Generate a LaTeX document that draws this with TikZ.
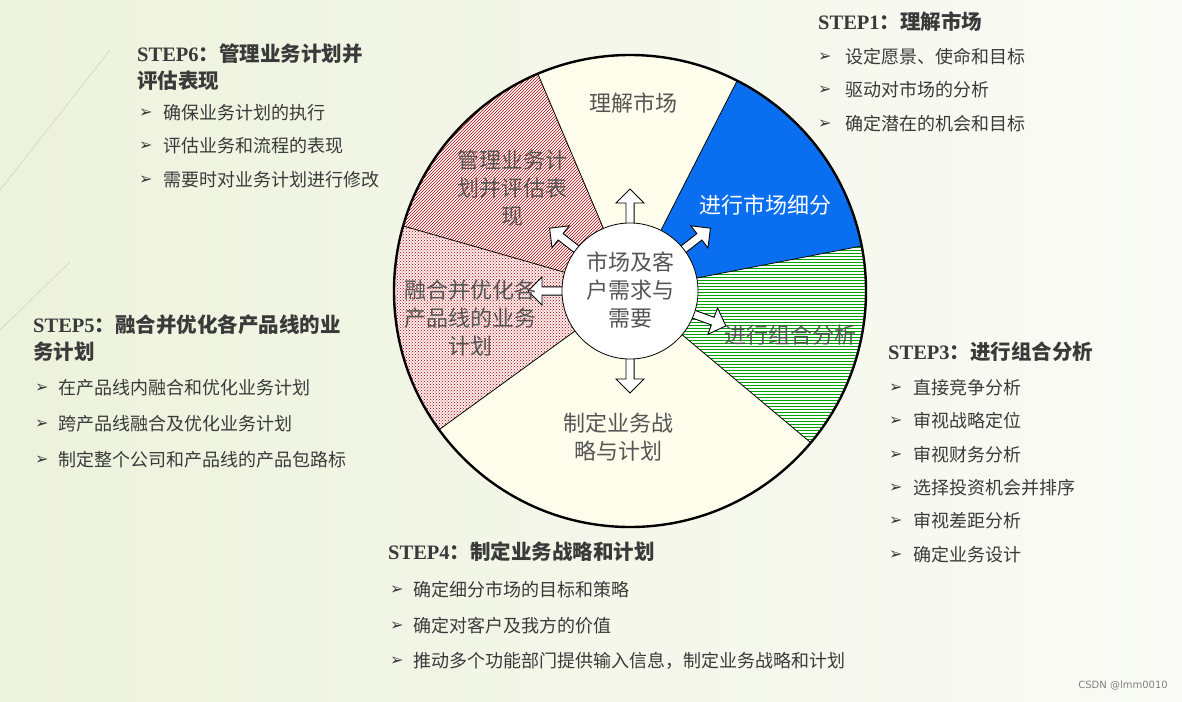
\documentclass[tikz,border=0pt]{standalone}
\usepackage{fontspec}
\setmainfont{Liberation Serif}
\newfontfamily\cjk{Noto Sans CJK SC}
\newfontfamily\djfont{DejaVu Sans}
\usetikzlibrary{patterns,shapes.arrows,calc}
\definecolor{bgA}{HTML}{EDF2DC}
\definecolor{bgB}{HTML}{FAFBF6}
\definecolor{cream}{HTML}{FFFEEC}
\definecolor{segblue}{HTML}{0A6EF0}
\definecolor{txt}{HTML}{3A3A3A}
\definecolor{lbl}{HTML}{555555}
\tikzset{
 head/.style={anchor=west,inner sep=0pt,font=\fontsize{20.5}{27}\selectfont,text=txt},
 item/.style={anchor=west,inner sep=0pt,font=\cjk\fontsize{18}{22}\selectfont,text=txt},
 bul/.style={anchor=west,inner sep=0pt,font=\djfont\bfseries\fontsize{16}{18}\selectfont,text=txt},
 seglbl/.style={align=center,inner sep=0pt,font=\cjk\fontsize{22}{28}\selectfont,text=lbl},
 blk/.style={single arrow,draw=black,fill=white,line width=0.9pt,minimum height=40pt,minimum width=28pt,single arrow head extend=6pt,inner sep=2pt}
}
\newcommand{\stp}[2]{{\bfseries STEP#1}{\cjk\bfseries ：#2}}
\begin{document}
\begin{tikzpicture}[x=1pt,y=-1pt]
\useasboundingbox (0,0) rectangle (1182,701);
\shade[left color=bgA,right color=bgB] (0,0) rectangle (1182,701);
\draw[gray!35,line width=0.6pt] (0,190) -- (110,50);
\draw[gray!35,line width=0.6pt] (0,330) -- (70,262);
\coordinate (C) at (630,291);
\def\R{236}
% sectors
\fill[segblue] (C) -- ($(C)+(-11:\R)$) arc[start angle=-11,end angle=-63,radius=\R] -- cycle;
\fill[cream] (C) -- ($(C)+(-63:\R)$) arc[start angle=-63,end angle=-113,radius=\R] -- cycle;
\fill[white] (C) -- ($(C)+(-113:\R)$) arc[start angle=-113,end angle=-164,radius=\R] -- cycle;
\fill[pattern=north east lines,pattern color=red!70!black] (C) -- ($(C)+(-113:\R)$) arc[start angle=-113,end angle=-164,radius=\R] -- cycle;
\fill[red!8] (C) -- ($(C)+(-164:\R)$) arc[start angle=-164,end angle=-216,radius=\R] -- cycle;
\fill[pattern=crosshatch dots,pattern color=red!60!black] (C) -- ($(C)+(-164:\R)$) arc[start angle=-164,end angle=-216,radius=\R] -- cycle;
\fill[cream] (C) -- ($(C)+(-216:\R)$) arc[start angle=-216,end angle=-320,radius=\R] -- cycle;
\fill[white] (C) -- ($(C)+(-320:\R)$) arc[start angle=-320,end angle=-371,radius=\R] -- cycle;
\fill[pattern=horizontal lines,pattern color=green!65!black] (C) -- ($(C)+(-320:\R)$) arc[start angle=-320,end angle=-371,radius=\R] -- cycle;
\foreach \a in {11,63,113,164,216,320}
  \draw[line width=0.8pt] (C) -- ($(C)+(-\a:\R)$);
\draw[line width=2.4pt] (C) circle[radius=\R];
% arrows
\foreach \a in {90,38,142,180,-20,-90}
  \node[blk,rotate=\a] (ar\a) at ($(C)+(-\a:80)$) {};
\node[circle,draw=black,line width=0.8pt,fill=white,minimum size=136pt,inner sep=0pt] (ctr) at (C) {};
\node[seglbl] (lc) at (630,290) {市场及客\\户需求与\\需要};
\node[seglbl] (l1) at (633,103) {理解市场};
\node[seglbl,text=white] (l2) at (765,205) {进行市场细分};
\node[seglbl] (l3) at (790,335) {进行组合分析};
\node[seglbl] (l4) at (618,437) {制定业务战\\略与计划};
\node[seglbl] (l5) at (470,318) {融合并优化各\\产品线的业务\\计划};
\node[seglbl] (l6) at (512,188) {管理业务计\\划并评估表\\现};
% STEP1
\node[head] (h1) at (818,22) {\stp{1}{理解市场}};
\foreach \t/\y in {设定愿景、使命和目标/57,驱动对市场的分析/90,确定潜在的机会和目标/124}{
 \node[bul] at (818,\y) {➢}; \node[item] at (845,\y) {\t};}
% STEP6
\node[head,align=left] (h6) at (137,67) {\stp{6}{管理业务计划并}\\{\cjk\bfseries 评估表现}};
\foreach \t/\y in {确保业务计划的执行/113,评估业务和流程的表现/146,需要时对业务计划进行修改/180}{
 \node[bul] at (139,\y) {➢}; \node[item] at (163,\y) {\t};}
% STEP5
\node[head,align=left] (h5) at (33,338) {\stp{5}{融合并优化各产品线的业}\\{\cjk\bfseries 务计划}};
\foreach \t/\y in {在产品线内融合和优化业务计划/388,跨产品线融合及优化业务计划/424,制定整个公司和产品线的产品包路标/460}{
 \node[bul] at (35,\y) {➢}; \node[item] at (58,\y) {\t};}
% STEP3
\node[head] (h3) at (888,352) {\stp{3}{进行组合分析}};
\foreach \t/\y in {直接竞争分析/388,审视战略定位/421,审视财务分析/455,选择投资机会并排序/488,审视差距分析/521,确定业务设计/555}{
 \node[bul] at (889,\y) {➢}; \node[item] at (913,\y) {\t};}
% STEP4
\node[head] (h4) at (388,552) {\stp{4}{制定业务战略和计划}};
\foreach \t/\y in {确定细分市场的目标和策略/590,确定对客户及我方的价值/626,{推动多个功能部门提供输入信息，制定业务战略和计划}/661}{
 \node[bul] at (390,\y) {➢}; \node[item] at (413,\y) {\t};}
\node[anchor=east,inner sep=0pt,font=\djfont\fontsize{10}{12}\selectfont,text=gray] (wm) at (1168,686) {CSDN @lmm0010};
\end{tikzpicture}
\end{document}
